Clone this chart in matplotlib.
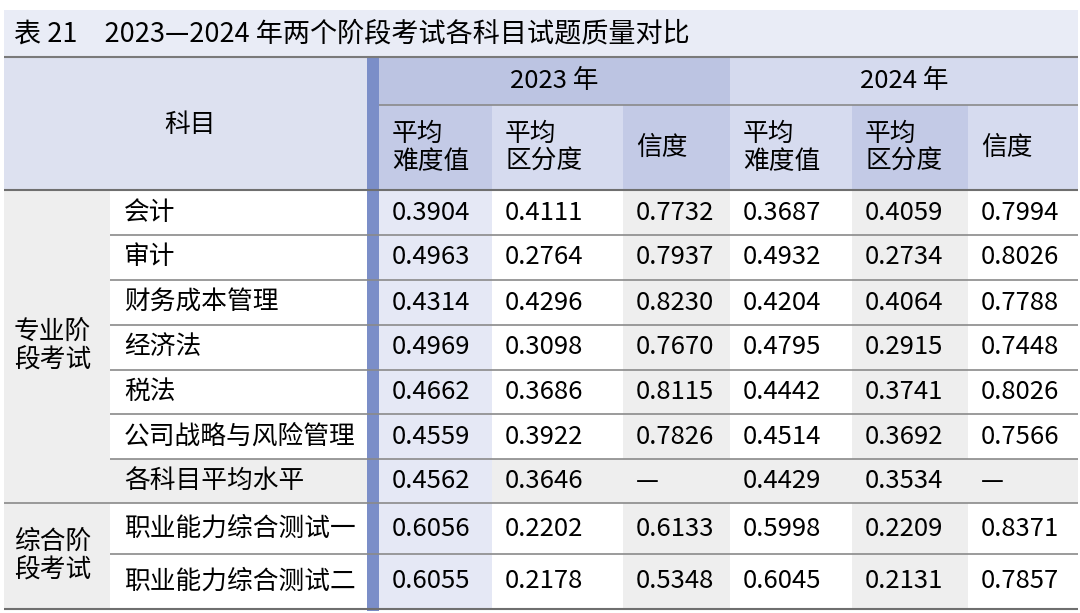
import matplotlib
matplotlib.use("Agg")
import matplotlib.pyplot as plt
from matplotlib.patches import Rectangle

plt.rcParams['font.family'] = ['Noto Sans CJK SC', 'DejaVu Sans']

title = "表 21　2023—2024 年两个阶段考试各科目试题质量对比"
years = ["2023 年", "2024 年"]
metrics = ["平均\n难度值", "平均\n区分度", "信度"]
groups = ["专业阶\n段考试", "综合阶\n段考试"]
subjects = ["会计", "审计", "财务成本管理", "经济法", "税法", "公司战略与风险管理",
            "各科目平均水平", "职业能力综合测试一", "职业能力综合测试二"]
v2023_diff = ["0.3904", "0.4963", "0.4314", "0.4969", "0.4662", "0.4559", "0.4562", "0.6056", "0.6055"]
v2023_disc = ["0.4111", "0.2764", "0.4296", "0.3098", "0.3686", "0.3922", "0.3646", "0.2202", "0.2178"]
v2023_rel = ["0.7732", "0.7937", "0.8230", "0.7670", "0.8115", "0.7826", "—", "0.6133", "0.5348"]
v2024_diff = ["0.3687", "0.4932", "0.4204", "0.4795", "0.4442", "0.4514", "0.4429", "0.5998", "0.6045"]
v2024_disc = ["0.4059", "0.2734", "0.4064", "0.2915", "0.3741", "0.3692", "0.3534", "0.2209", "0.2131"]
v2024_rel = ["0.7994", "0.8026", "0.7788", "0.7448", "0.8026", "0.7566", "—", "0.8371", "0.7857"]

cols = [v2023_diff, v2023_disc, v2023_rel, v2024_diff, v2024_disc, v2024_rel]

W, H = 1080, 613
fig = plt.figure(figsize=(W / 100, H / 100), dpi=100)
ax = fig.add_axes([0, 0, 1, 1])
ax.set_xlim(0, W)
ax.set_ylim(H, 0)
ax.axis('off')

FS = 18.5
X0, X1 = 4, 1078
colx = [379, 492, 623, 730, 852, 968, 1078]
rows_y = [190, 235, 280, 325, 370, 414, 459, 503, 554, 609]

def rect(x0, y0, x1, y1, c):
    ax.add_patch(Rectangle((x0, y0), x1 - x0, y1 - y0, facecolor=c, edgecolor='none', zorder=1))

def hline(y, x0, x1, c='#8a8a8a', lw=1.2):
    ax.plot([x0, x1], [y, y], color=c, lw=lw, zorder=3, solid_capstyle='butt')

# title band
rect(X0, 10, X1, 57, '#e9ecf6')
ax.text(14, 34, title, fontsize=19.5, va='center', ha='left', zorder=4, fontweight='medium')
hline(57, X0, X1, '#7a7a7a', 1.5)

# header
rect(X0, 57, 367, 190, '#dde1f0')
rect(colx[0], 57, colx[3], 105, '#bcc4e2')
rect(colx[3], 57, colx[6], 105, '#d5daee')
sub_bg = ['#c3cae6', '#d6dbef', '#c3cae6', '#d6dbef', '#c3cae6', '#d6dbef']
for i in range(6):
    rect(colx[i], 105, colx[i + 1], 190, sub_bg[i])
hline(105, colx[0], X1)
ax.text(190, 125, "科目", fontsize=FS, ha='center', va='center', zorder=4)
ax.text((colx[0] + colx[3]) / 2, 81, years[0], fontsize=FS, ha='center', va='center', zorder=4)
ax.text((colx[3] + colx[6]) / 2, 81, years[1], fontsize=FS, ha='center', va='center', zorder=4)
for i in range(6):
    ax.text(colx[i] + 13, 148, metrics[i % 3], fontsize=FS, ha='left', va='center',
            linespacing=1.1, zorder=4)
hline(190, X0, X1, '#6f6f6f', 1.5)

# body backgrounds
data_bg = ['#e5e8f5', 'white', '#eeeeee', 'white', '#eeeeee', 'white']
rect(X0, 190, 110, 609, '#eeeeee')
rect(110, 190, 367, 609, 'white')
for i in range(6):
    rect(colx[i], 190, colx[i + 1], 609, data_bg[i])
# average row grey
rect(110, rows_y[6], 367, rows_y[7], '#eeeeee')
for i in range(1, 6):
    rect(colx[i], rows_y[6], colx[i + 1], rows_y[7], '#eeeeee')

for r in range(len(subjects)):
    yc = (rows_y[r] + rows_y[r + 1]) / 2
    ax.text(124, yc, subjects[r], fontsize=FS, ha='left', va='center', zorder=4)
    for i in range(6):
        ax.text(colx[i] + 13, yc, cols[i][r], fontsize=FS, ha='left', va='center', zorder=4)
    if 0 < r:
        if r == 7:
            hline(rows_y[r], X0, X1)
        else:
            hline(rows_y[r], 110, X1)

ax.text(14, (rows_y[0] + rows_y[7]) / 2, groups[0], fontsize=FS, ha='left', va='center',
        linespacing=1.15, zorder=4)
ax.text(14, (rows_y[7] + rows_y[9]) / 2, groups[1], fontsize=FS, ha='left', va='center',
        linespacing=1.15, zorder=4)
hline(609, X0, X1, '#6f6f6f', 1.5)

# blue separator bar
rect(367, 57, 379, 611, '#7b8ec8')

fig.savefig("out.png", dpi=100, facecolor='white')
